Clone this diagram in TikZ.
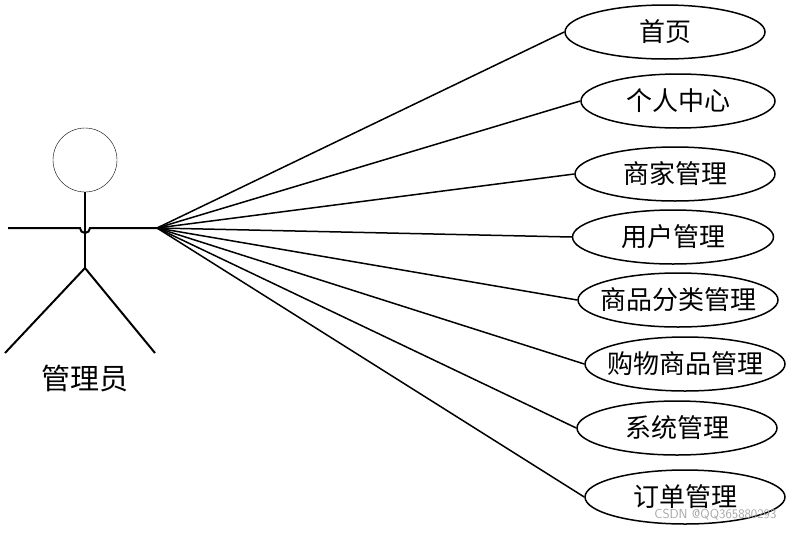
\documentclass[tikz,border=0pt]{standalone}
\usepackage{fontspec}
\usetikzlibrary{shapes.geometric}
\newfontfamily\cjk{Noto Sans CJK SC}
\begin{document}
\begin{tikzpicture}[x=1pt,y=-1pt,
  uc/.style={draw,line width=1.5pt,ellipse,minimum width=200pt,minimum height=54pt,inner sep=0pt},
  lab/.style={font=\cjk\fontsize{26}{30}\selectfont},
  ln/.style={line width=1.5pt}]
\useasboundingbox (0,0) rectangle (794,533);
% actor
\node[draw,circle,minimum size=64pt,inner sep=0pt] (head) at (85,160) {};
\coordinate (hub) at (157,228);
\coordinate (lh) at (8,228);
\coordinate (hip) at (85,268);
\coordinate (lf) at (5,353);
\coordinate (rf) at (155,353);
\draw[line width=2pt] (lh) -- (80,228) arc[start angle=180,end angle=0,radius=5] -- (hub);
\draw[line width=2pt] (head.south) -- (hip);
\draw[line width=2pt] (lf) -- (hip) -- (rf);
\node[font=\cjk\fontsize{29}{32}\selectfont] (actor) at (85,378) {管理员};
% use cases
\node[uc,minimum width=200pt] (e1) at (665,32) {};
\node[uc,minimum width=194pt] (e2) at (678,101) {};
\node[uc,minimum width=200pt] (e3) at (675,174) {};
\node[uc,minimum width=201pt] (e4) at (673,237) {};
\node[uc,minimum width=200pt] (e5) at (678,300) {};
\node[uc,minimum width=200pt] (e6) at (685,364) {};
\node[uc,minimum width=200pt] (e7) at (677,428) {};
\node[uc,minimum width=200pt] (e8) at (685,497) {};
\node[lab] (t1) at (e1) {首页};
\node[lab] (t2) at (e2) {个人中心};
\node[lab] (t3) at (e3) {商家管理};
\node[lab] (t4) at (e4) {用户管理};
\node[lab] (t5) at (e5) {商品分类管理};
\node[lab] (t6) at (e6) {购物商品管理};
\node[lab] (t7) at (e7) {系统管理};
\node[lab] (t8) at (e8) {订单管理};
\foreach \e in {e1,e2,e3,e4,e5,e6,e7,e8} \draw[ln] (hub) -- (\e.west);
\node[text=black!35,font=\sffamily\fontsize{13}{15}\selectfont,anchor=east] (wm) at (780,515) {CSDN @QQ365880293};
\end{tikzpicture}
\end{document}
